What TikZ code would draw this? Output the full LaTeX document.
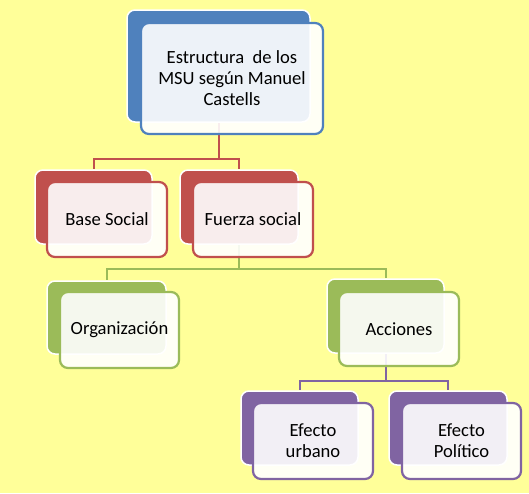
\documentclass[tikz,border=0pt]{standalone}
\usepackage{fontspec}
\setmainfont{Carlito}
\usetikzlibrary{backgrounds}
\definecolor{bgyellow}{HTML}{FFFF99}
\definecolor{cblue}{HTML}{4F81BD}
\definecolor{cred}{HTML}{C0504D}
\definecolor{cgreen}{HTML}{9BBB59}
\definecolor{cpurple}{HTML}{8064A2}
\begin{document}
\begin{tikzpicture}[x=1pt,y=-1pt,
  backbox/.style={draw=white, line width=1.5pt, rounded corners=8pt, inner sep=0pt, fill=#1},
  frontbox/.style={draw=#1, line width=2.2pt, fill=white, fill opacity=0.9, text opacity=1,
    rounded corners=8pt, align=center, inner sep=0pt, text=black,
    font=\fontsize{18.6}{21}\selectfont},
  conn/.style={draw=#1, line width=2pt}]
\useasboundingbox (0,0) rectangle (529,493);
% top
\node[backbox=cblue, minimum width=183pt, minimum height=112pt] (topb) at (218.5,66) {};
\node[frontbox=cblue, minimum width=182pt, minimum height=111pt] (topf) at (232,78.5) {Estructura~ de los\\MSU según Manuel\\Castells};
% level 2
\node[backbox=cred, minimum width=117pt, minimum height=74pt] (baseb) at (93.5,207) {};
\node[frontbox=cred, minimum width=120pt, minimum height=75pt] (basef) at (107,219.5) {Base Social};
\node[backbox=cred, minimum width=118pt, minimum height=74pt] (fuerzab) at (239,207) {};
\node[frontbox=cred, minimum width=120pt, minimum height=75pt] (fuerzaf) at (253,219.5) {Fuerza social};
% level 3
\node[backbox=cgreen, minimum width=119pt, minimum height=73pt] (orgb) at (106.5,317.5) {};
\node[frontbox=cgreen, minimum width=119pt, minimum height=76pt] (orgf) at (119.5,330) {Organización};
\node[backbox=cgreen, minimum width=117pt, minimum height=74pt] (accb) at (385.5,316) {};
\node[frontbox=cgreen, minimum width=120pt, minimum height=74pt] (accf) at (399,329) {Acciones};
% level 4
\node[backbox=cpurple, minimum width=117pt, minimum height=74pt] (urbb) at (299.5,428) {};
\node[frontbox=cpurple, minimum width=120pt, minimum height=76pt] (urbf) at (313,441) {Efecto\\urbano};
\node[backbox=cpurple, minimum width=118pt, minimum height=74pt] (polb) at (448,428) {};
\node[frontbox=cpurple, minimum width=119pt, minimum height=76pt] (polf) at (461.5,441) {Efecto\\Político};
\begin{pgfonlayer}{background}
\fill[bgyellow] (0,0) rectangle (529,493);
\draw[conn=cred] (topb.south) -- ++(0,36) coordinate (rj) -| (baseb.north);
\draw[conn=cred] (rj) -| (fuerzab.north);
\draw[conn=cgreen] (fuerzab.south) -- ++(0,24) coordinate (gj) -| (orgb.north);
\draw[conn=cgreen] (gj) -| (accb.north);
\draw[conn=cpurple] (accb.south) -- ++(0,27) coordinate (pj) -| (urbb.north);
\draw[conn=cpurple] (pj) -| (polb.north);
\end{pgfonlayer}
\end{tikzpicture}
\end{document}
